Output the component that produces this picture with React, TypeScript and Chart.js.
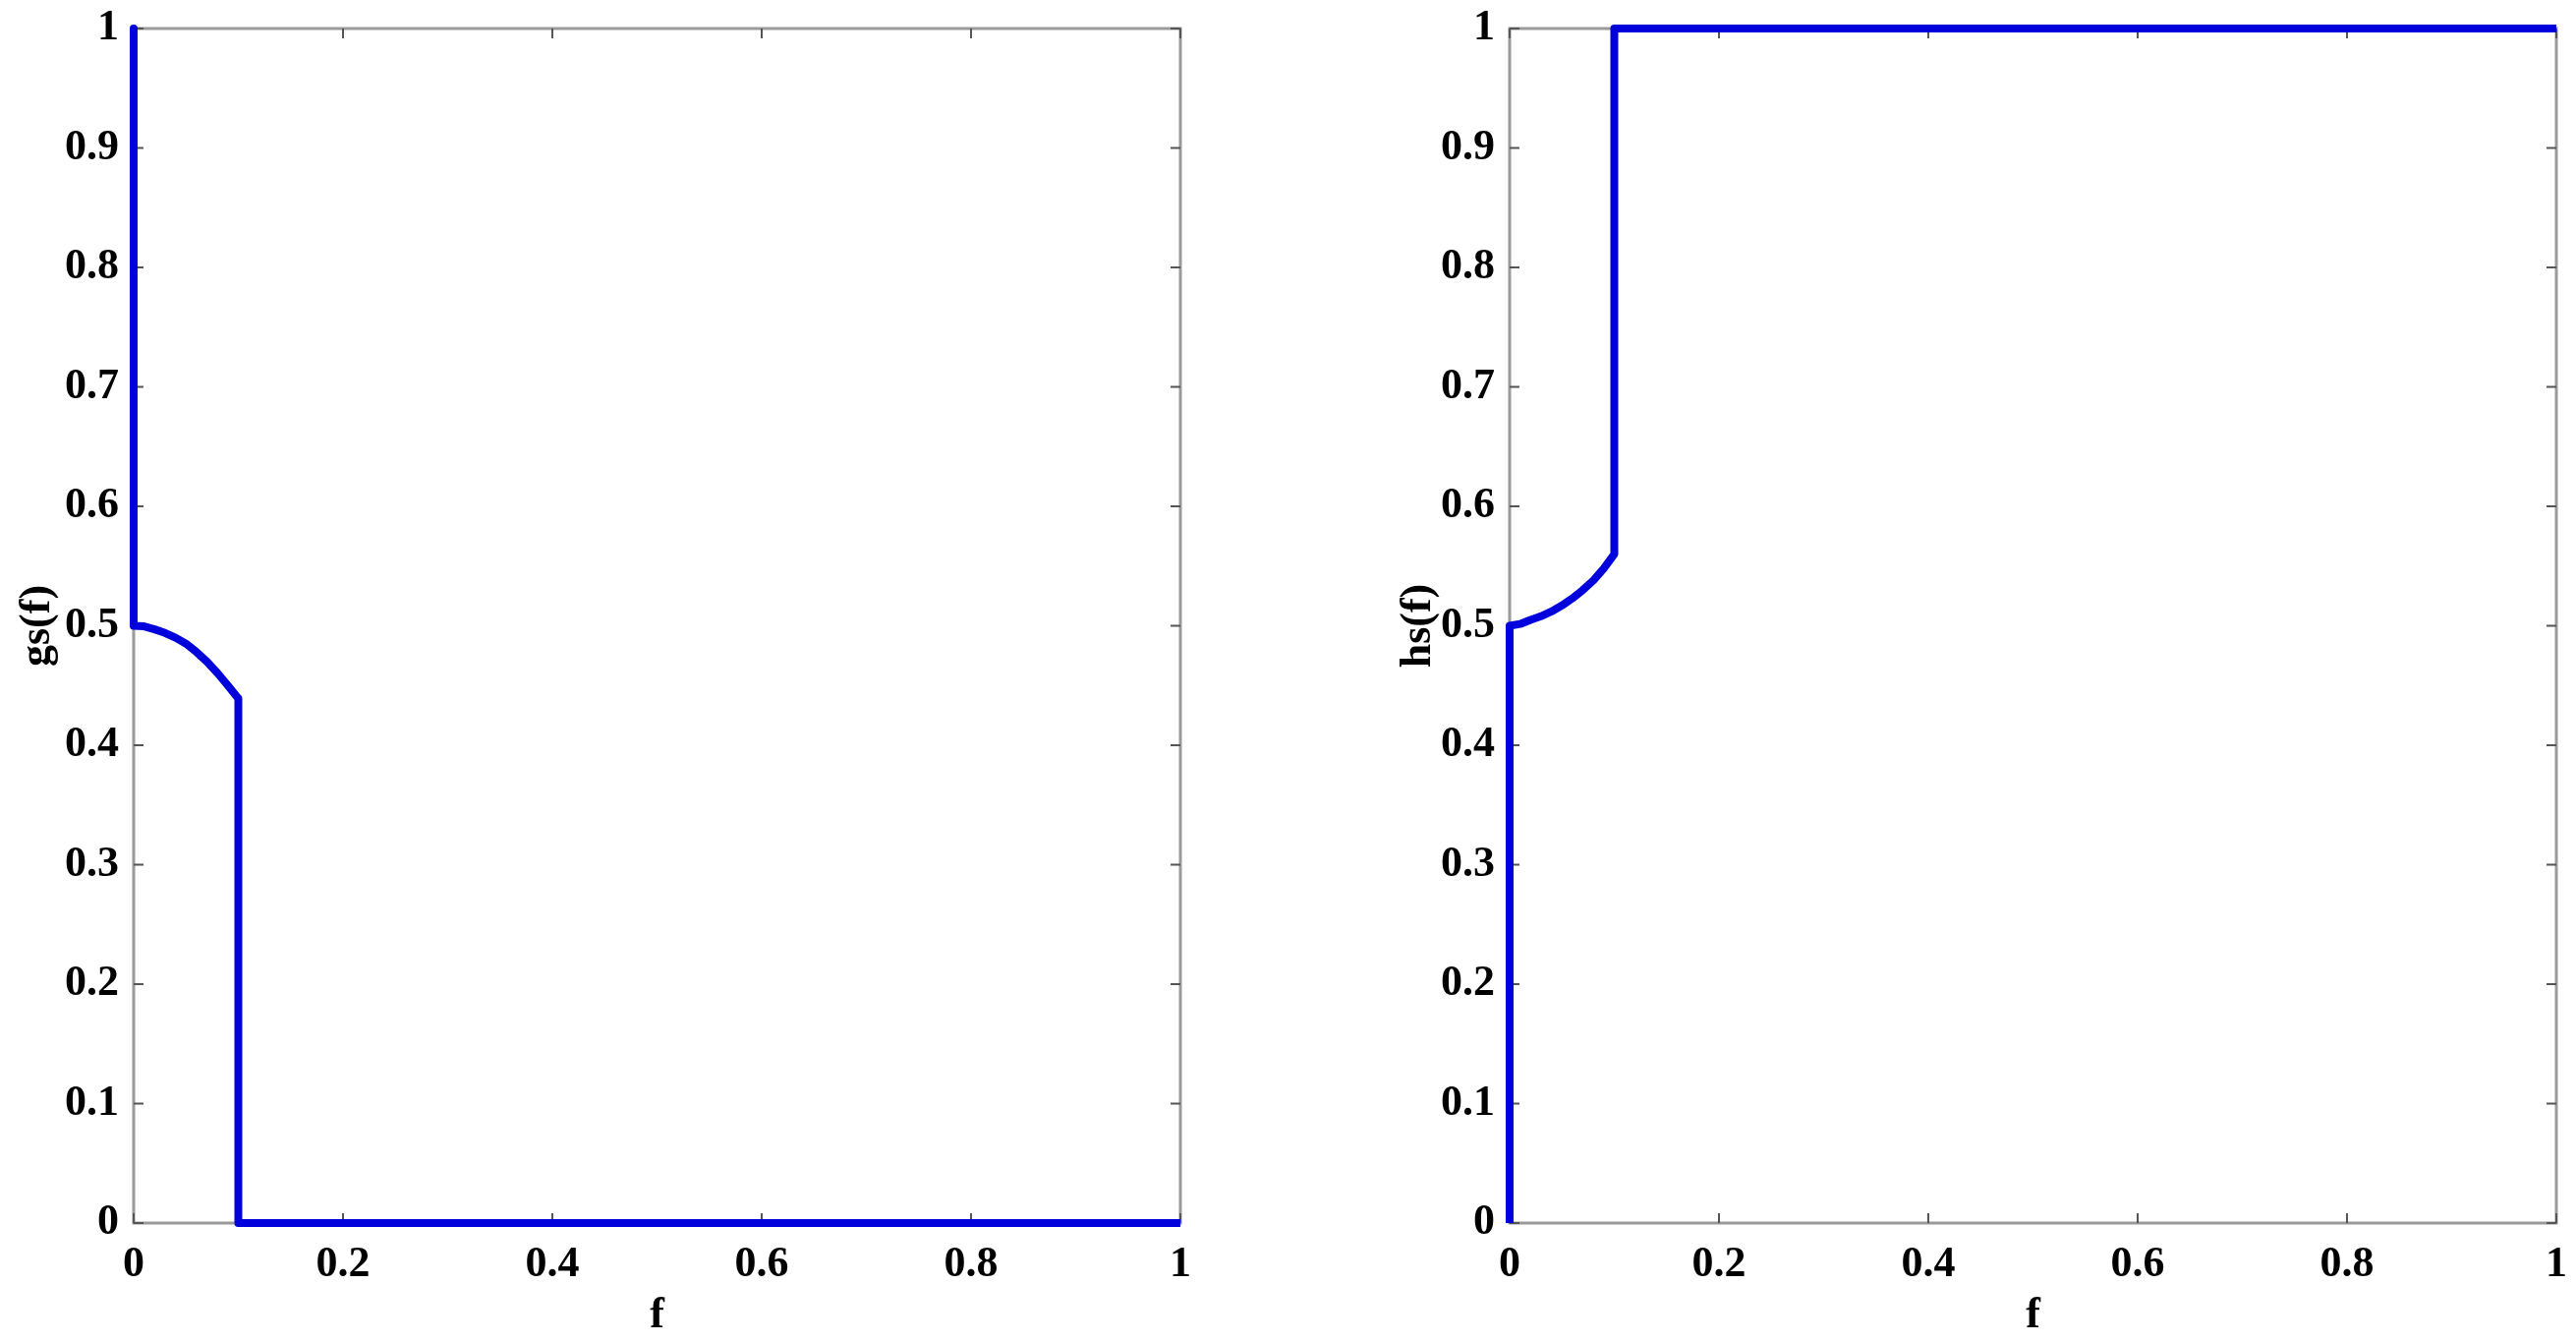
import React, { useEffect, useRef } from "react";
import { Chart, registerables } from "chart.js";

Chart.register(...registerables);

// Smooth part of each curve, sampled on f
const fCurve = [0, 0.01, 0.02, 0.03, 0.04, 0.05, 0.06, 0.07, 0.08, 0.09, 0.1];
const gsCurve = [0.5, 0.4995, 0.497, 0.494, 0.49, 0.485, 0.478, 0.47, 0.4605, 0.45, 0.439];
const hsCurve = [0.5, 0.5015, 0.505, 0.508, 0.512, 0.517, 0.523, 0.53, 0.538, 0.548, 0.56];

// Jump positions / end values
const gsStart = { f: 0, v: 1 };
const gsEnd = [
  { f: 0.1, v: 0 },
  { f: 1, v: 0 },
];
const hsStart = { f: 0, v: 0 };
const hsEnd = [
  { f: 0.1, v: 1 },
  { f: 1, v: 1 },
];

const xTicks = [0, 0.2, 0.4, 0.6, 0.8, 1];
const yTicks = [0, 0.1, 0.2, 0.3, 0.4, 0.5, 0.6, 0.7, 0.8, 0.9, 1];

const FONT = "'Liberation Serif', 'Times New Roman', serif";
const LINE_COLOR = "#0000dd";
const BOX_COLOR = "#9a9a9a";
const TICK_COLOR = "#555555";

function buildSeries(start: { f: number; v: number }, curve: number[], end: { f: number; v: number }[]) {
  const pts = [{ x: start.f, y: start.v }];
  fCurve.forEach((f, i) => pts.push({ x: f, y: curve[i] }));
  end.forEach((p) => pts.push({ x: p.f, y: p.v }));
  return pts;
}

const boxPlugin = {
  id: "matlabBox",
  beforeDatasetsDraw(chart: any) {
    const { ctx, chartArea } = chart;
    const xs = chart.scales.x;
    const ys = chart.scales.y;
    const { left, right, top, bottom } = chartArea;
    ctx.save();
    ctx.strokeStyle = BOX_COLOR;
    ctx.lineWidth = 3;
    ctx.strokeRect(left, top, right - left, bottom - top);
    ctx.strokeStyle = TICK_COLOR;
    ctx.lineWidth = 2;
    const len = 10;
    ctx.beginPath();
    xTicks.forEach((t) => {
      const px = xs.getPixelForValue(t);
      ctx.moveTo(px, bottom);
      ctx.lineTo(px, bottom - len);
      ctx.moveTo(px, top);
      ctx.lineTo(px, top + len);
    });
    yTicks.forEach((t) => {
      const py = ys.getPixelForValue(t);
      ctx.moveTo(left, py);
      ctx.lineTo(left + len, py);
      ctx.moveTo(right, py);
      ctx.lineTo(right - len, py);
    });
    ctx.stroke();
    ctx.restore();
  },
};

function fmt(v: number) {
  return String(Math.round(v * 10) / 10);
}

type PanelProps = {
  left: number;
  width: number;
  plotLeft: number;
  plotRight: number;
  yTitle: string;
  data: { x: number; y: number }[];
};

function Panel({ left, width, plotLeft, plotRight, yTitle, data }: PanelProps) {
  const ref = useRef<HTMLCanvasElement | null>(null);
  useEffect(() => {
    if (!ref.current) return;
    const chart = new Chart(ref.current, {
      type: "scatter",
      data: {
        datasets: [
          {
            data,
            showLine: true,
            borderColor: LINE_COLOR,
            backgroundColor: LINE_COLOR,
            borderWidth: 8,
            pointRadius: 0,
            tension: 0,
            borderJoinStyle: "round",
            clip: 6,
          } as any,
        ],
      },
      options: {
        animation: false,
        responsive: false,
        maintainAspectRatio: false,
        layout: { padding: { left: 0, top: 29, right: width - plotRight, bottom: 0 } },
        plugins: { legend: { display: false }, tooltip: { enabled: false } },
        scales: {
          x: {
            type: "linear",
            min: 0,
            max: 1,
            afterBuildTicks: (scale: any) => {
              scale.ticks = xTicks.map((v) => ({ value: v }));
            },
            afterFit: (scale: any) => {
              scale.height = 122;
              scale.paddingLeft = 0;
              scale.paddingRight = 0;
            },
            grid: { display: false, drawTicks: false },
            border: { display: false },
            ticks: {
              color: "#000",
              font: { family: FONT, size: 44, weight: "bold" },
              padding: 16,
              maxRotation: 0,
              callback: (v: any) => fmt(Number(v)),
            },
            title: {
              display: true,
              text: "f",
              color: "#000",
              font: { family: FONT, size: 44, weight: "bold" },
              padding: { top: 0, bottom: 1 },
            },
          },
          y: {
            type: "linear",
            min: 0,
            max: 1,
            afterBuildTicks: (scale: any) => {
              scale.ticks = yTicks.map((v) => ({ value: v }));
            },
            afterFit: (scale: any) => {
              scale.width = plotLeft;
              scale.paddingTop = 0;
              scale.paddingBottom = 0;
            },
            grid: { display: false, drawTicks: false },
            border: { display: false },
            ticks: {
              color: "#000",
              font: { family: FONT, size: 44, weight: "bold" },
              padding: 15,
              callback: (v: any) => fmt(Number(v)),
            },
            title: {
              display: true,
              text: yTitle,
              color: "#000",
              font: { family: FONT, size: 44, weight: "bold" },
              padding: { top: 12, bottom: 0 },
            },
          },
        },
      } as any,
      plugins: [boxPlugin],
    });
    return () => chart.destroy();
  }, []);
  return (
    <div style={{ position: "absolute", left, top: 0, width, height: 1366 }}>
      <canvas ref={ref} width={width} height={1366} style={{ width, height: 1366, display: "block" }} />
    </div>
  );
}

export default function App() {
  const gsData = buildSeries(gsStart, gsCurve, gsEnd);
  const hsData = buildSeries(hsStart, hsCurve, hsEnd);
  return (
    <div style={{ position: "absolute", left: 0, top: 0, width: 2621, height: 1366, background: "#fff", overflow: "hidden" }}>
      <Panel left={0} width={1300} plotLeft={136} plotRight={1201} yTitle="gs(f)" data={gsData} />
      <Panel left={1405} width={1216} plotLeft={131} plotRight={1196} yTitle="hs(f)" data={hsData} />
    </div>
  );
}
